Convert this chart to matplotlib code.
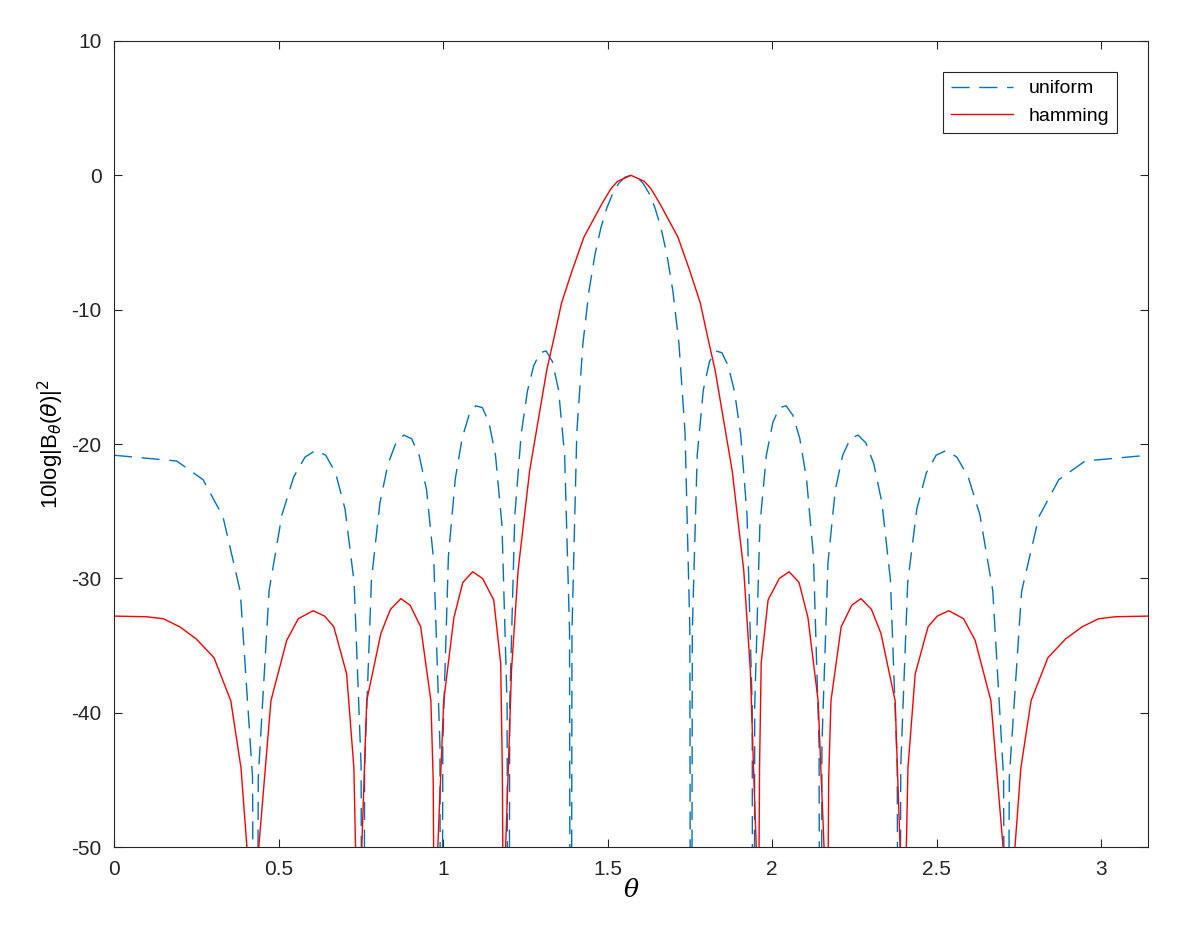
import numpy as np
import matplotlib
matplotlib.use("Agg")
from matplotlib import pyplot as plt

plt.rcParams['font.family'] = ['Liberation Sans', 'DejaVu Sans']
plt.rcParams['axes.unicode_minus'] = False

# left half (0 .. pi/2), curves are symmetric about pi/2
theta_uni = np.array([
  0.0, 0.1906, 0.2708, 0.3313, 0.3838, 0.4211, 0.4298, 0.4385, 0.4714, 0.5104,
  0.5461, 0.5805, 0.6126, 0.6435, 0.6734, 0.7021, 0.7298, 0.7510, 0.7563, 0.7616,
  0.7824, 0.8081, 0.8328, 0.8567, 0.8807, 0.9043, 0.9273, 0.9499, 0.9720, 0.9905,
  0.9948, 0.9991, 1.0162, 1.0373, 1.0582, 1.0788, 1.0992, 1.1194, 1.1394, 1.1593,
  1.1790, 1.1946, 1.1985, 1.2024, 1.2180, 1.2373, 1.2564, 1.2755, 1.2945, 1.3133,
  1.3321, 1.3508, 1.3694, 1.3843, 1.3880, 1.3917, 1.4064, 1.4248, 1.4432, 1.4615,
  1.4797, 1.4980, 1.5162, 1.5344, 1.5526, 1.5708])
db_uni = np.array([
  -20.83, -21.26, -22.65, -25.41, -30.97, -44.8, -100, -44.8, -30.90, -25.27,
  -22.44, -20.97, -20.47, -20.83, -22.15, -24.83, -30.31, -44.0, -100, -44.0,
  -30.09, -24.38, -21.47, -19.92, -19.33, -19.60, -20.83, -23.42, -28.81, -42.4,
  -100, -42.4, -28.37, -22.56, -19.53, -17.86, -17.15, -17.29, -18.38, -20.83,
  -26.06, -39.5, -100, -39.5, -25.29, -19.28, -16.05, -14.16, -13.20, -13.07,
  -13.86, -15.97, -20.83, -33.9, -100, -33.9, -19.13, -12.55, -8.63, -5.90,
  -3.89, -2.40, -1.315, -0.574, -0.142, 0.0])

theta_ham = np.array([
  0.0, 0.10, 0.15, 0.20, 0.25, 0.304, 0.355, 0.386, 0.404, 0.42,
  0.440, 0.477, 0.525, 0.56, 0.605, 0.64, 0.668, 0.707, 0.729, 0.734,
  0.742, 0.753, 0.768, 0.811, 0.84, 0.872, 0.90, 0.932, 0.963, 0.970,
  0.975, 0.984, 1.002, 1.033, 1.06, 1.09, 1.12, 1.154, 1.175, 1.180,
  1.185, 1.190, 1.198, 1.208, 1.228, 1.263, 1.315, 1.338, 1.360, 1.392,
  1.428, 1.483, 1.510, 1.530, 1.5708])
db_ham = np.array([
  -32.8, -32.85, -33.0, -33.6, -34.5, -35.9, -39.1, -44.1, -50, -65,
  -50, -39.1, -34.6, -33.0, -32.4, -32.8, -33.6, -37.1, -44.1, -50,
  -65, -50, -39.1, -34.1, -32.3, -31.5, -32.0, -33.6, -39.1, -45,
  -65, -50, -39.1, -32.9, -30.3, -29.5, -30.0, -31.6, -36.3, -44.1,
  -65, -50, -44.3, -36.8, -29.4, -22.0, -14.5, -12.0, -9.5, -7.1,
  -4.6, -2.1, -1.0, -0.45, 0.0])

def full(th, db):
  return np.r_[th, np.pi - th[::-1][1:]], np.r_[db, db[::-1][1:]]

fig = plt.figure(figsize=(11.92, 9.3), dpi=100)
ax = fig.add_axes([0.0956, 0.089, 0.8674, 0.867])

x, y = full(theta_uni, db_uni)
ax.plot(x, y, color='#0072BD', lw=1.0, dashes=(13, 7), label='uniform')
x, y = full(theta_ham, db_ham)
ax.plot(x, y, color='#FF0000', lw=1.0, label='hamming')

ax.set_xlim(0, np.pi)
ax.set_ylim(-50, 10)
ax.set_xticks([0, 0.5, 1, 1.5, 2, 2.5, 3])
ax.set_xticklabels(['0', '0.5', '1', '1.5', '2', '2.5', '3'])
ax.set_yticks([-50, -40, -30, -20, -10, 0, 10])
ax.tick_params(direction='in', labelsize=15, length=6, pad=9, top=True, right=True,
               labeltop=False, labelright=False, colors='#262626')
for s in ax.spines.values():
  s.set_color('#262626')
  s.set_linewidth(0.8)

ax.set_xlabel('θ', fontsize=18, family='DejaVu Serif', style='italic', labelpad=0)
ax.set_ylabel(r'10log|B$_\theta$($\theta$)|$^2$', fontsize=16, labelpad=4)

leg = ax.legend(loc='upper right', fontsize=14, fancybox=False, framealpha=1,
                edgecolor='#262626', handlelength=3.2, borderaxespad=1.6)
leg.get_frame().set_linewidth(0.8)

fig.savefig('out.png')
